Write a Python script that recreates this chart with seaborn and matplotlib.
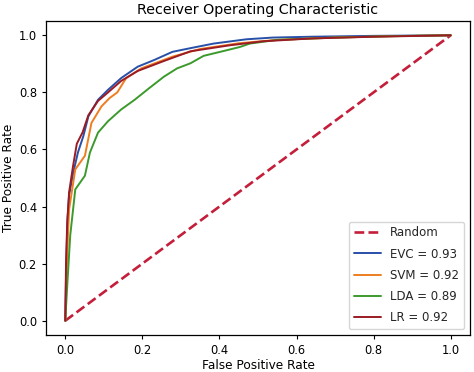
import matplotlib
matplotlib.use("Agg")
import matplotlib.pyplot as plt
import seaborn as sns

# =========================
# Setup
# =========================
sns.set_style("ticks")
plt.rcParams["font.family"] = ["DejaVu Sans"]

# =========================
# DATA
# =========================
random_fpr = [0.0, 1.0]
random_tpr = [0.0, 1.0]

evc_fpr = [0.0, 0.003, 0.006, 0.01, 0.021, 0.033, 0.047, 0.06, 0.085, 0.111, 0.145,
           0.188, 0.23, 0.278, 0.325, 0.385, 0.47, 0.538, 0.64, 0.8, 1.0]
evc_tpr = [0.0, 0.22, 0.36, 0.44, 0.52, 0.59, 0.647, 0.716, 0.774, 0.809, 0.85,
           0.89, 0.913, 0.942, 0.955, 0.971, 0.986, 0.992, 0.995, 0.998, 1.0]

svm_fpr = [0.0, 0.004, 0.007, 0.01, 0.026, 0.051, 0.068, 0.094, 0.115, 0.135, 0.158,
           0.197, 0.278, 0.35, 0.45, 0.55, 0.7, 0.85, 1.0]
svm_tpr = [0.0, 0.18, 0.30, 0.39, 0.53, 0.578, 0.693, 0.751, 0.78, 0.80, 0.85,
           0.884, 0.925, 0.952, 0.972, 0.984, 0.992, 0.997, 1.0]

lda_fpr = [0.0, 0.005, 0.013, 0.026, 0.051, 0.064, 0.085, 0.111, 0.145, 0.18, 0.218,
           0.256, 0.29, 0.325, 0.359, 0.402, 0.453, 0.479, 0.55, 0.7, 0.85, 1.0]
lda_tpr = [0.0, 0.12, 0.30, 0.46, 0.508, 0.589, 0.659, 0.699, 0.74, 0.774, 0.815,
           0.855, 0.884, 0.902, 0.928, 0.942, 0.959, 0.971, 0.984, 0.992, 0.997, 1.0]

lr_fpr = [0.0, 0.002, 0.005, 0.01, 0.02, 0.03, 0.045, 0.06, 0.085, 0.111, 0.145,
          0.188, 0.256, 0.325, 0.427, 0.513, 0.64, 0.8, 1.0]
lr_tpr = [0.0, 0.20, 0.34, 0.45, 0.54, 0.62, 0.66, 0.72, 0.77, 0.80, 0.84,
          0.875, 0.91, 0.944, 0.965, 0.979, 0.989, 0.995, 1.0]

curves = [
    ("EVC = 0.93", evc_fpr, evc_tpr, "#2850a8"),
    ("SVM = 0.92", svm_fpr, svm_tpr, "#ee7d20"),
    ("LDA = 0.89", lda_fpr, lda_tpr, "#3c9a2c"),
    ("LR = 0.92", lr_fpr, lr_tpr, "#9b1b24"),
]

# =========================
# PLOT
# =========================
fig = plt.figure(figsize=(4.74, 3.72), dpi=100)
ax = fig.add_axes([0.097, 0.0995, 0.8945, 0.844])

sns.lineplot(x=random_fpr, y=random_tpr, ax=ax, color="#c41e3a",
             linestyle="--", linewidth=1.9, label="Random",
             estimator=None, sort=False)
for label, fpr, tpr, color in curves:
    sns.lineplot(x=fpr, y=tpr, ax=ax, color=color, linewidth=1.4,
                 label=label, estimator=None, sort=False)

ax.set_xticks([0.0, 0.2, 0.4, 0.6, 0.8, 1.0])
ax.set_yticks([0.0, 0.2, 0.4, 0.6, 0.8, 1.0])
ax.tick_params(labelsize=8.3, length=3, color="black", labelcolor="black")
for s in ax.spines.values():
    s.set_color("black")
    s.set_linewidth(0.9)

ax.set_title("Receiver Operating Characteristic", fontsize=10.3, color="black", pad=5)
ax.set_xlabel("False Positive Rate", fontsize=8.7, color="black", labelpad=1.5)
ax.set_ylabel("True Positive Rate", fontsize=8.7, color="black", labelpad=3)

ax.legend(loc="lower right", fontsize=8.5, frameon=True, framealpha=0.8,
          edgecolor="#cccccc", handlelength=2.3, labelspacing=0.7)

fig.savefig("out.png", dpi=100)
